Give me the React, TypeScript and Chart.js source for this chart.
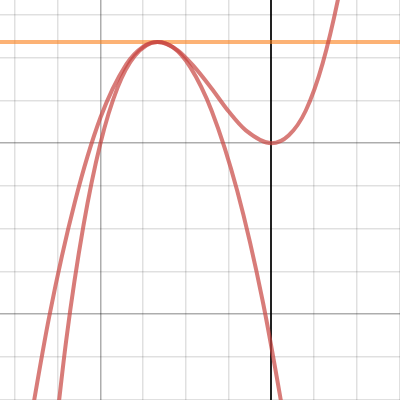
import { useEffect, useRef } from 'react';
import { Chart, registerables, type ChartConfiguration } from 'chart.js';

Chart.register(...registerables);

/* ─── Data (y-axis at x = 0) ─────────────────────────────────────────────── */

// cubic with a local max at x ≈ -4/3 and local min at x = 0
const cubicX = [-2.6, -2.4, -2.2, -2.0, -1.8, -1.6, -1.333, -1.1, -0.9, -0.7, -0.5, -0.3, 0, 0.2, 0.4, 0.6, 0.8, 0.9];
const cubicY = [-6.06, -4.3, -2.97, -2.0, -1.35, -0.98, -0.815, -0.91, -1.11, -1.36, -1.63, -1.85, -2.0, -1.91, -1.62, -1.06, -0.21, 0.35];

// parabola sharing the top point of the cubic
const parabolaX = [-2.9, -2.6, -2.3, -2.0, -1.7, -1.5, -1.333, -1.15, -0.95, -0.7, -0.4, -0.1, 0.2];
const parabolaY = [-5.73, -4.03, -2.69, -1.7, -1.08, -0.87, -0.815, -0.88, -1.11, -1.62, -2.56, -3.86, -5.52];

// horizontal line through the shared top point
const levelX = [-4, 2];
const levelY = [-0.815, -0.815];

/* ─── Constants ──────────────────────────────────────────────────────────── */

const VIEW = { xMin: -3.175, xMax: 1.503, yMin: -5.003, yMax: -0.325 };

const COLOUR = {
  curve: 'rgba(199,68,64,0.7)',
  level: 'rgba(250,126,25,0.6)',
  axis:  '#222222',
  major: 'rgba(0,0,0,0.32)',
  minor: 'rgba(0,0,0,0.12)',
} as const;

const toPoints = (xs: number[], ys: number[]) => xs.map((x, i) => ({ x, y: ys[i] }));

const gridColour = (value: number) =>
  Math.abs(value) < 1e-9 ? COLOUR.axis :
  Math.abs(value % 2) < 1e-9 ? COLOUR.major : COLOUR.minor;

/* ─── Component ──────────────────────────────────────────────────────────── */

export default function App() {
  const canvasRef = useRef<HTMLCanvasElement>(null);

  useEffect(() => {
    document.body.style.margin = '0';
    if (!canvasRef.current) return;

    const lineStyle = {
      showLine: true,
      pointRadius: 0,
      borderWidth: 4,
      cubicInterpolationMode: 'monotone' as const,
      fill: false,
    };

    const grid = {
      drawTicks: false,
      lineWidth: (ctx: any) => (Math.abs(ctx.tick?.value ?? 1) < 1e-9 ? 2 : 1.5),
      color: (ctx: any) => gridColour(ctx.tick?.value ?? 1),
    };

    const config: ChartConfiguration<'scatter'> = {
      type: 'scatter',
      data: {
        datasets: [
          { label: 'cubic', data: toPoints(cubicX, cubicY), borderColor: COLOUR.curve, ...lineStyle },
          { label: 'parabola', data: toPoints(parabolaX, parabolaY), borderColor: COLOUR.curve, ...lineStyle },
          { label: 'level', data: toPoints(levelX, levelY), borderColor: COLOUR.level, ...lineStyle, cubicInterpolationMode: 'default' },
        ],
      },
      options: {
        animation: false,
        responsive: true,
        maintainAspectRatio: false,
        layout: { padding: 0 },
        plugins: { legend: { display: false }, tooltip: { enabled: false } },
        scales: {
          x: {
            type: 'linear',
            min: VIEW.xMin,
            max: VIEW.xMax,
            border: { display: false },
            grid,
            ticks: { display: false, stepSize: 0.5, includeBounds: false },
          },
          y: {
            type: 'linear',
            min: VIEW.yMin,
            max: VIEW.yMax,
            border: { display: false },
            grid,
            ticks: { display: false, stepSize: 0.5, includeBounds: false },
          },
        },
      },
    };

    const chart = new Chart(canvasRef.current, config);
    return () => { chart.destroy(); };
  }, []);

  return (
    <div style={{ position: 'absolute', left: 0, top: 0, width: 400, height: 400, background: '#ffffff' }}>
      <canvas ref={canvasRef} />
    </div>
  );
}
